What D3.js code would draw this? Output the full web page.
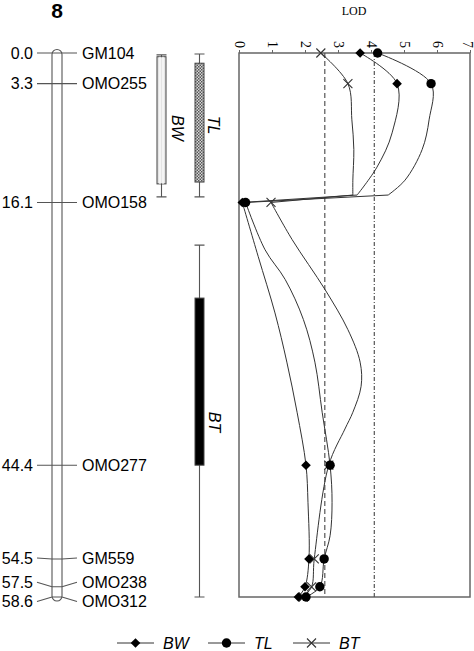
<!DOCTYPE html>
<html><head><meta charset="utf-8">
<script src="https://cdn.jsdelivr.net/npm/d3@7"></script>
<style>body{margin:0;background:#fff}</style>
</head><body>
<script>
// ---- data ----
const chromName = "8";
const markerNames = ["GM104","OMO255","OMO158","OMO277","GM559","OMO238","OMO312"];
const markerPos = [0.0, 3.3, 16.1, 44.4, 54.5, 57.5, 58.6];
const lodTicks = [0,1,2,3,4,5,6,7];
const thresholds = [2.6, 4.1];
// LOD profiles: [cM] and [LOD]; steep drop just before OMO158
const bwPos = [0, 3.3, 8.6, 12.3, 15.3, 16.1, 21.9, 28.0, 33.3, 38.7, 44.4, 48.4, 54.5, 57.5, 58.6];
const bwLod = [3.67, 4.79, 4.64, 4.18, 3.58, 0.1, 0.58, 1.09, 1.45, 1.76, 2.03, 2.09, 2.12, 2.0, 1.8];
const tlPos = [0, 3.3, 7.2, 10.4, 13.7, 15.3, 16.1, 21.2, 24.4, 28.7, 33.3, 38.7, 44.4, 48.4, 52.0, 54.5, 57.5, 58.6];
const tlLod = [4.2, 5.82, 5.76, 5.55, 5.03, 4.52, 0.2, 0.79, 1.4, 1.95, 2.3, 2.52, 2.76, 2.82, 2.76, 2.58, 2.45, 2.03];
const btPos = [0, 3.3, 7.2, 10.4, 13.7, 15.3, 16.1, 20.1, 25.5, 29.8, 33.3, 35.9, 38.7, 40.5, 44.4, 54.5, 57.5, 58.6];
const btLod = [2.48, 3.3, 3.42, 3.48, 3.45, 3.45, 0.97, 1.61, 2.61, 3.3, 3.67, 3.7, 3.45, 3.21, 2.72, 2.28, 2.2, 1.95];
const traits = ["BW","TL","BT"];
const qtlOuter = [[0.2, 15.5],[0.1, 15.5],[20.7, 58.6]];
const qtlInner = [[0.4, 14.1],[1.1, 13.9],[26.4, 44.4]];

// ---- layout ----
const W = 474, H = 651;
const svg = d3.select("body").append("svg").attr("width", W).attr("height", H);
const y = d3.scaleLinear().domain([0, 58.6]).range([53, 597]);
const x = d3.scaleLinear().domain([0, 7]).range([239, 470]);
const sans = "Liberation Sans, Arial, sans-serif";
const serif = "Liberation Serif, Times New Roman, serif";

const defs = svg.append("defs");
const pat = defs.append("pattern").attr("id","hatch").attr("width",3).attr("height",3).attr("patternUnits","userSpaceOnUse");
pat.append("rect").attr("width",3).attr("height",3).attr("fill","#d8d8d8");
pat.append("rect").attr("width",1.5).attr("height",1.5).attr("fill","#555");
pat.append("rect").attr("x",1.5).attr("y",1.5).attr("width",1.5).attr("height",1.5).attr("fill","#555");

// chromosome title
svg.append("text").attr("x", 57).attr("y", 18).attr("text-anchor","middle")
  .attr("font-family", sans).attr("font-weight","bold").attr("font-size", 21).text(chromName);

// chromosome body
svg.append("rect").attr("x", 52).attr("y", y(0) - 3.5).attr("width", 10)
  .attr("height", y(58.6) - y(0) + 7.5).attr("rx", 5).attr("ry", 5)
  .attr("fill","none").attr("stroke","#555").attr("stroke-width",1.1);

// markers
const labelShift = [0,0,0,0,-1,-4.5,4.5];
markerPos.forEach((p, i) => {
  const yy = y(p), yl = yy + labelShift[i];
  svg.append("path").attr("d", `M37,${yl}L52,${yy}M62,${yy}L77,${yl}M52,${yy}L62,${yy}`)
    .attr("stroke","#555").attr("stroke-width",1.1).attr("fill","none");
  svg.append("text").attr("x", 33).attr("y", yl).attr("dy","0.36em").attr("text-anchor","end")
    .attr("font-family", sans).attr("font-size", 16).text(p.toFixed(1));
  svg.append("text").attr("x", 82).attr("y", yl).attr("dy","0.36em")
    .attr("font-family", sans).attr("font-size", 16).text(markerNames[i]);
});

// QTL bars
const barX = [161.5, 199.5, 199.5];
const labelPos = [[178, 128],[214, 125],[215, 422]];
traits.forEach((t, i) => {
  const cx = barX[i];
  const [o0, o1] = qtlOuter[i], [i0, i1] = qtlInner[i];
  svg.append("path").attr("d", `M${cx},${y(o0)}L${cx},${y(o1)}M${cx-5},${y(o0)}L${cx+5},${y(o0)}M${cx-5},${y(o1)}L${cx+5},${y(o1)}`)
    .attr("stroke","#555").attr("stroke-width",1.1).attr("fill","none");
  const r = svg.append("rect").attr("x", cx-4.5).attr("y", y(i0)).attr("width", 9).attr("height", y(i1)-y(i0))
    .attr("stroke","#444").attr("stroke-width",1);
  if (i === 0) {
    r.attr("fill","#e4e4e4");
    svg.append("path").attr("d", `M${cx-1.5},${y(i0)}L${cx-1.5},${y(i1)}M${cx+1.5},${y(i0)}L${cx+1.5},${y(i1)}`)
      .attr("stroke","#fff").attr("stroke-width",1.2);
  } else if (i === 1) r.attr("fill","url(#hatch)");
  else r.attr("fill","#000");
  svg.append("text").attr("transform", `translate(${labelPos[i][0]},${labelPos[i][1]}) rotate(90)`)
    .attr("text-anchor","middle").attr("dy","0.35em").attr("font-family", sans).attr("font-style","italic")
    .attr("font-size", 16).text(t);
});

// LOD frame
svg.append("rect").attr("x", x(0)).attr("y", y(0)).attr("width", x(7)-x(0)).attr("height", y(58.6)-y(0))
  .attr("fill","none").attr("stroke","#666").attr("stroke-width",1.5);
svg.append("text").attr("x", 354).attr("y", 15).attr("text-anchor","middle").attr("font-family", serif)
  .attr("font-size", 12).text("LOD");
const ax = svg.append("g").attr("transform", `translate(0,${y(0)})`)
  .call(d3.axisTop(x).tickValues(lodTicks).tickSize(3).tickFormat(d3.format("d")));
ax.select(".domain").remove();
ax.selectAll("line").attr("stroke","#666");
ax.selectAll("text").attr("transform", d => `translate(${d === 7 ? -2.5 : 0},-5) rotate(90)`).attr("x", 0).attr("y", 0)
  .attr("dy","0.33em").attr("text-anchor","end").attr("font-family", serif).attr("font-size", 14).attr("fill","#000");

// thresholds
svg.append("line").attr("x1", x(thresholds[0])).attr("x2", x(thresholds[0])).attr("y1", y(0)).attr("y2", y(58.6))
  .attr("stroke","#555").attr("stroke-width",1.2).attr("stroke-dasharray","5,3");
svg.append("line").attr("x1", x(thresholds[1])).attr("x2", x(thresholds[1])).attr("y1", y(0)).attr("y2", y(58.6))
  .attr("stroke","#555").attr("stroke-width",1.2).attr("stroke-dasharray","4,2,1,2");

// curves
const line = d3.line().x(d => x(d[1])).y(d => y(d[0])).curve(d3.curveCatmullRom.alpha(0.5));
const profiles = [[bwPos,bwLod],[tlPos,tlLod],[btPos,btLod]];
profiles.forEach(([ps, ls]) => {
  const pts = ps.map((p, i) => [p, ls[i]]);
  const b = ps.indexOf(16.1);
  const segs = [pts.slice(0, b), pts.slice(b-1, b+1), pts.slice(b)];
  segs.forEach(s => svg.append("path").attr("d", line(s)).attr("fill","none")
    .attr("stroke","#333").attr("stroke-width",1));
});

// symbols
function drawSym(g, t, cx, cy) {
  if (t === "BW") g.append("path").attr("d", `M${cx},${cy-4.8}L${cx+4.8},${cy}L${cx},${cy+4.8}L${cx-4.8},${cy}Z`).attr("fill","#000");
  else if (t === "TL") g.append("circle").attr("cx", cx).attr("cy", cy).attr("r", 4.7).attr("fill","#000");
  else g.append("path").attr("d", `M${cx-4.5},${cy-4.5}L${cx+4.5},${cy+4.5}M${cx-4.5},${cy+4.5}L${cx+4.5},${cy-4.5}`)
    .attr("stroke","#333").attr("stroke-width",1.1);
}
const symG = svg.append("g");
[2,0,1].forEach(k => {
  const [ps, ls] = profiles[k];
  ps.forEach((p, i) => { if (markerPos.includes(p)) drawSym(symG, traits[k], x(ls[i]), y(p)); });
});

// legend
const legX = [117, 208, 293];
traits.forEach((t, i) => {
  const lx = legX[i], ly = 643;
  svg.append("line").attr("x1", lx).attr("x2", lx+37).attr("y1", ly).attr("y2", ly).attr("stroke","#333").attr("stroke-width",1);
  drawSym(svg, t, lx+18.5, ly);
  svg.append("text").attr("x", lx+46).attr("y", ly).attr("dy","0.36em").attr("font-family", sans)
    .attr("font-style","italic").attr("font-size", 16).text(t);
});
</script>
</body></html>
